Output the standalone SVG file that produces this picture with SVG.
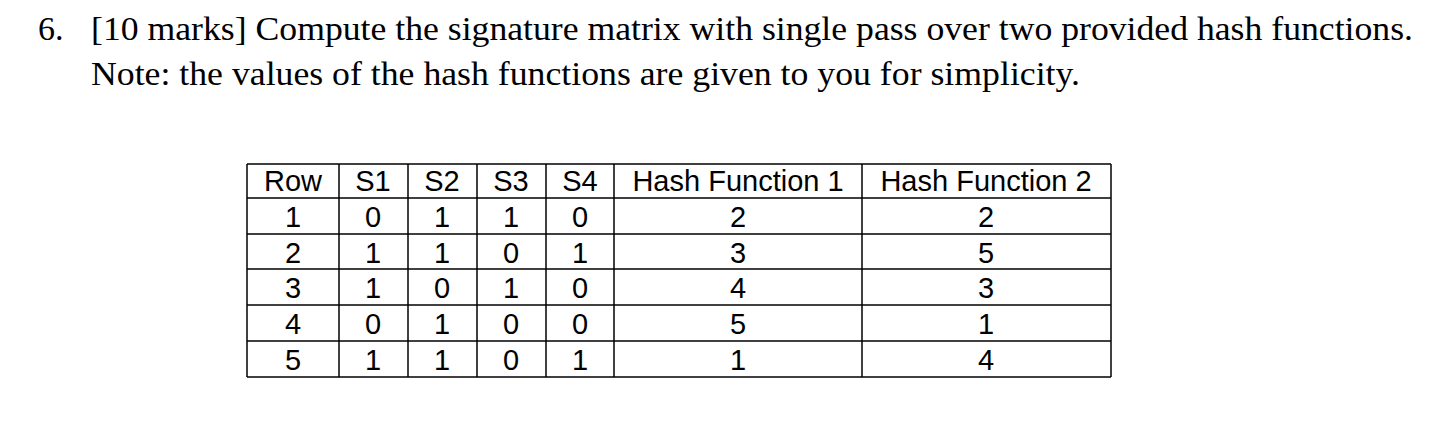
<svg xmlns="http://www.w3.org/2000/svg" width="1449" height="428" viewBox="0 0 1449 428">
<style>
.t{font-family:"Liberation Serif",serif;font-size:34px;fill:#000}
.c{font-family:"Liberation Sans",Arial,sans-serif;font-size:29px;fill:#000;text-anchor:middle}
.g line{stroke:#000;stroke-width:1.5}
</style>
<rect width="1449" height="428" fill="#fff"/>
<text class="t" x="38" y="40">6.</text>
<text class="t" x="91" y="40" textLength="1322" lengthAdjust="spacingAndGlyphs">[10 marks] Compute the signature matrix with single pass over two provided hash functions.</text>
<text class="t" x="91" y="85" textLength="989" lengthAdjust="spacingAndGlyphs">Note: the values of the hash functions are given to you for simplicity.</text>
<g id="table" class="g">
<line x1="247" y1="164" x2="1111" y2="164"/>
<line x1="247" y1="198" x2="1111" y2="198"/>
<line x1="247" y1="234" x2="1111" y2="234"/>
<line x1="247" y1="269" x2="1111" y2="269"/>
<line x1="247" y1="305" x2="1111" y2="305"/>
<line x1="247" y1="341" x2="1111" y2="341"/>
<line x1="247" y1="377" x2="1111" y2="377"/>
<line x1="247" y1="164" x2="247" y2="377"/>
<line x1="339" y1="164" x2="339" y2="377"/>
<line x1="408" y1="164" x2="408" y2="377"/>
<line x1="477" y1="164" x2="477" y2="377"/>
<line x1="546" y1="164" x2="546" y2="377"/>
<line x1="614" y1="164" x2="614" y2="377"/>
<line x1="862" y1="164" x2="862" y2="377"/>
<line x1="1111" y1="164" x2="1111" y2="377"/>
</g>
<g id="text">
<text class="c" x="293" y="191">Row</text><text class="c" x="373" y="191">S1</text><text class="c" x="442" y="191">S2</text><text class="c" x="511" y="191">S3</text><text class="c" x="580" y="191">S4</text><text class="c" x="738" y="191">Hash Function 1</text><text class="c" x="986" y="191">Hash Function 2</text>
<text class="c" x="293" y="227">1</text><text class="c" x="373" y="227">0</text><text class="c" x="442" y="227">1</text><text class="c" x="511" y="227">1</text><text class="c" x="580" y="227">0</text><text class="c" x="738" y="227">2</text><text class="c" x="986" y="227">2</text>
<text class="c" x="293" y="263">2</text><text class="c" x="373" y="263">1</text><text class="c" x="442" y="263">1</text><text class="c" x="511" y="263">0</text><text class="c" x="580" y="263">1</text><text class="c" x="738" y="263">3</text><text class="c" x="986" y="263">5</text>
<text class="c" x="293" y="298">3</text><text class="c" x="373" y="298">1</text><text class="c" x="442" y="298">0</text><text class="c" x="511" y="298">1</text><text class="c" x="580" y="298">0</text><text class="c" x="738" y="298">4</text><text class="c" x="986" y="298">3</text>
<text class="c" x="293" y="334">4</text><text class="c" x="373" y="334">0</text><text class="c" x="442" y="334">1</text><text class="c" x="511" y="334">0</text><text class="c" x="580" y="334">0</text><text class="c" x="738" y="334">5</text><text class="c" x="986" y="334">1</text>
<text class="c" x="293" y="370">5</text><text class="c" x="373" y="370">1</text><text class="c" x="442" y="370">1</text><text class="c" x="511" y="370">0</text><text class="c" x="580" y="370">1</text><text class="c" x="738" y="370">1</text><text class="c" x="986" y="370">4</text>
</g>
</svg>
